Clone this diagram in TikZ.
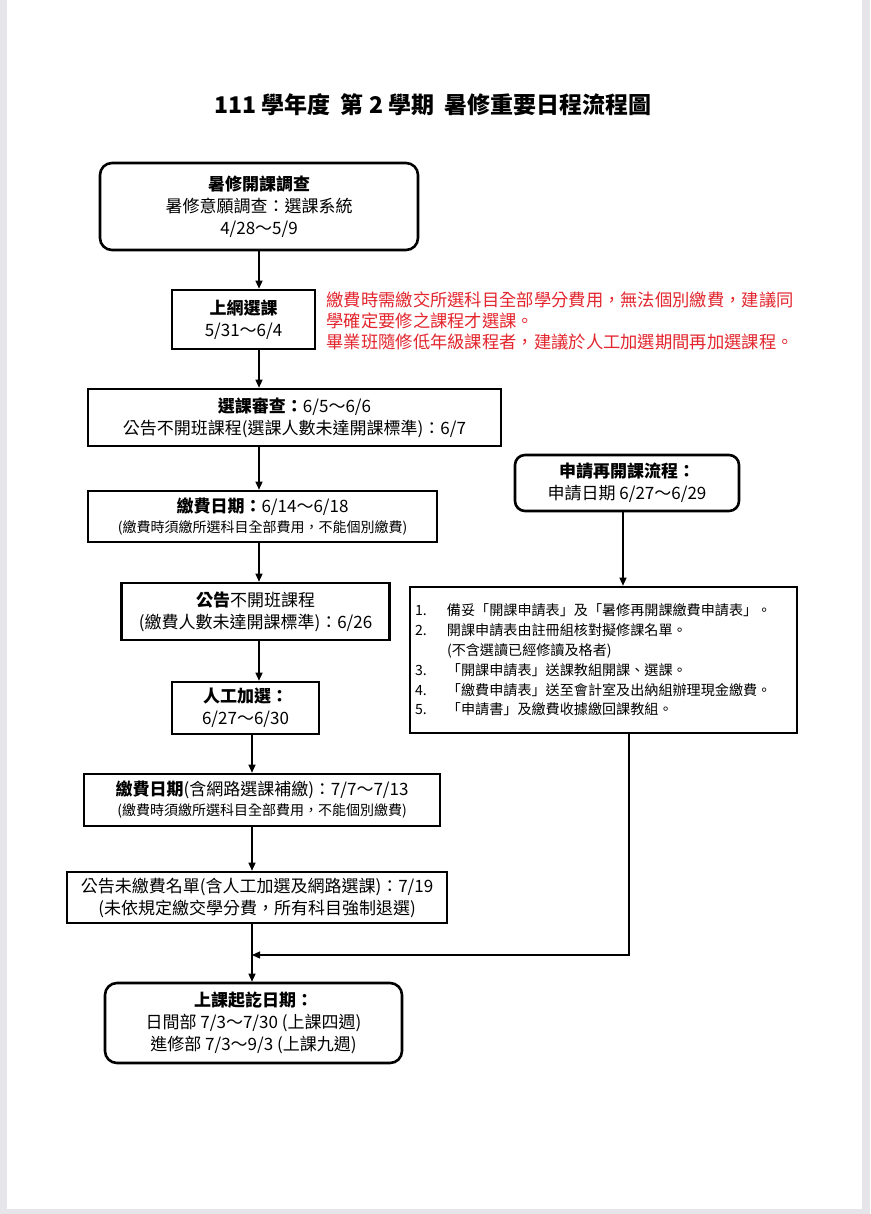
\documentclass[tikz,border=0pt]{standalone}
\usepackage{fontspec}
\setmainfont{Noto Sans CJK TC}
\usepackage{xcolor}
\usepackage{tikz}
\usetikzlibrary{arrows.meta}
\definecolor{notered}{HTML}{E3262E}
\definecolor{edgegray}{HTML}{E6E6EA}
\newcommand{\bodyfont}{\fontsize{17}{22}\selectfont}
\newcommand{\smallfont}{\fontsize{14}{20}\selectfont}
\newcommand{\listfont}{\fontsize{14.1}{19.8}\selectfont}
\newcommand{\numcol}[1]{\makebox[32pt][l]{#1}}

\tikzset{
  stepbox/.style={draw, line width=2.6pt, align=center, inner sep=0pt, font=\bodyfont},
  roundbox/.style={stepbox, rounded corners=12pt},
  flow/.style={-{Triangle[length=8pt,width=7pt]}, line width=1.3pt},
}

\begin{document}
\begin{tikzpicture}[x=1pt,y=-1pt]
    % page
    \fill[edgegray] (0,0) rectangle (870,1214);
    \fill[white] (7,0) rectangle (862,1209);

    \node[font=\fontsize{23}{28}\selectfont\bfseries] (title) at (433,105)
        {111 學年度\hspace{0.45em}第 2 學期\hspace{0.45em}暑修重要日程流程圖};

    % main column
    \node[roundbox, minimum width=318, minimum height=87] (b1) at (259,206.5)
        {\textbf{暑修開課調查}\\暑修意願調查：選課系統\\4/28～5/9};
    \node[stepbox, minimum width=143, minimum height=59] (b2) at (243.5,319.5)
        {\textbf{上網選課}\\5/31～6/4};
    \node[notered, anchor=west, align=left, font=\fontsize{17.3}{21}\selectfont] (note) at (323,321)
        {繳費時需繳交所選科目全部學分費用，無法個別繳費，建議同\\學確定要修之課程才選課。\\畢業班隨修低年級課程者，建議於人工加選期間再加選課程。};
    \node[stepbox, minimum width=413, minimum height=57] (b3) at (294.5,417.5)
        {\textbf{選課審查：}6/5～6/6\\公告不開班課程(選課人數未達開課標準)：6/7};
    \node[stepbox, minimum width=349, minimum height=51] (b4) at (262.5,516.5)
        {\textbf{繳費日期：}6/14～6/18\\[-2pt]{\smallfont (繳費時須繳所選科目全部費用，不能個別繳費)}};
    \node[stepbox, minimum width=268, minimum height=57] (b5) at (255.5,611.5)
        {\textbf{公告}不開班課程\\(繳費人數未達開課標準)：6/26};
    \node[stepbox, minimum width=147, minimum height=52] (b6) at (245.5,708)
        {\textbf{人工加選：}\\6/27～6/30};
    \node[stepbox, minimum width=356, minimum height=52] (b7) at (262,800)
        {\textbf{繳費日期}(含網路選課補繳)：7/7～7/13\\[-2pt]{\smallfont (繳費時須繳所選科目全部費用，不能個別繳費)}};
    \node[stepbox, minimum width=380, minimum height=51] (b8) at (257,897.5)
        {公告未繳費名單(含人工加選及網路選課)：7/19\\(未依規定繳交學分費，所有科目強制退選)};
    \node[roundbox, minimum width=297, minimum height=80] (b9) at (253.5,1023)
        {\textbf{上課起訖日期：}\\日間部 7/3～7/30 (上課四週)\\進修部 7/3～9/3 (上課九週)};

    % re-open branch
    \node[roundbox, rounded corners=10pt, minimum width=224, minimum height=56] (r1) at (627,483)
        {\textbf{申請再開課流程：}\\申請日期 6/27～6/29};
    \node[stepbox, align=left, text width=377, inner xsep=5pt, minimum height=146, font=\listfont] (r2) at (603.5,660)
        {\numcol{1.}備妥「開課申請表」及「暑修再開課繳費申請表」。\\
         \numcol{2.}開課申請表由註冊組核對擬修課名單。\\
         \numcol{}(不含選讀已經修讀及格者)\\
         \numcol{3.}「開課申請表」送課教組開課、選課。\\
         \numcol{4.}「繳費申請表」送至會計室及出納組辦理現金繳費。\\
         \numcol{5.}「申請書」及繳費收據繳回課教組。};

    \coordinate (colA) at (259,0);
    \coordinate (colB) at (252,0);
    \coordinate (colC) at (623,0);
    \coordinate (colD) at (629,0);
    \coordinate (join) at (252,955);

    \draw[flow] (b1.south -| colA) -- (b2.north -| colA);
    \draw[flow] (b2.south -| colA) -- (b3.north -| colA);
    \draw[flow] (b3.south -| colA) -- (b4.north -| colA);
    \draw[flow] (b4.south -| colA) -- (b5.north -| colA);
    \draw[flow] (b5.south -| colA) -- (b6.north -| colA);
    \draw[flow] (b6.south -| colB) -- (b7.north -| colB);
    \draw[flow] (b7.south -| colB) -- (b8.north -| colB);
    \draw[flow] (b8.south -| colB) -- (b9.north -| colB);

    \draw[flow] (r1.south -| colC) -- (r2.north -| colC);
    \draw[flow] (r2.south -| colD) |- (join);
\end{tikzpicture}
\end{document}
